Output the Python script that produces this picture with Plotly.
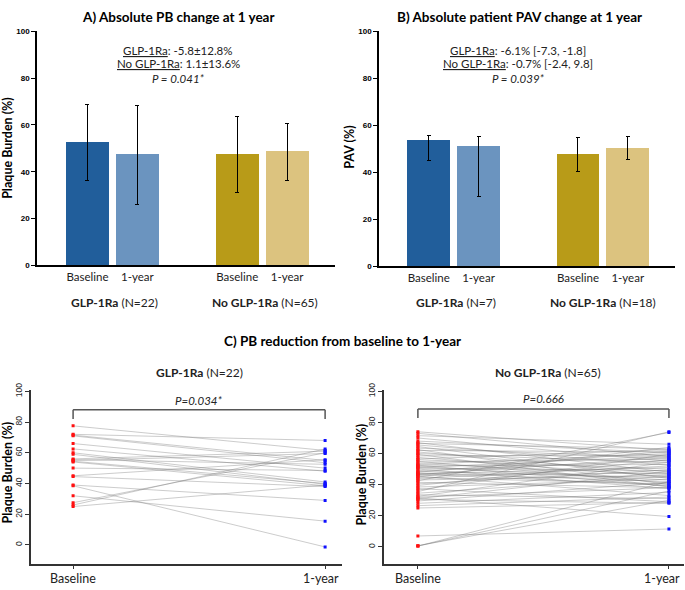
import plotly.graph_objects as go

W, H = 685, 590
FONT = "Lato"

# ---------------- DATA ----------------
bar_labels = ["Baseline", "1-year", "Baseline", "1-year"]
bar_colors = ["#215e9b", "#6b94bf", "#b89b18", "#dcc37f"]

# Panel A: mean +/- SD plaque burden (%)
A_means = [52.5, 47.2, 47.5, 48.5]
A_sd = [16.3, 21.1, 16.3, 12.3]

# Panel B: median [IQR] PAV (%)
B_median = [53.6, 50.8, 47.4, 50.3]
B_upper = [55.8, 55.4, 54.7, 55.1]
B_lower = [45.0, 29.9, 40.4, 45.5]

# Panel C: individual PB at baseline and 1-year
C_glp_base = [77.5, 72.0, 71.5, 71.0, 66.0, 62.5, 60.0, 59.0, 56.0, 55.5, 55.0,
              54.5, 54.0, 50.0, 45.0, 44.5, 39.0, 38.5, 32.0, 27.5, 26.0, 25.0]
C_glp_1yr = [61.5, 68.0, 55.0, 53.5, 50.0, 48.0, 41.0, 39.5, 61.0, 52.5, 59.5,
             40.0, 38.5, 48.5, 55.5, 38.0, 29.0, -1.3, 15.5, 60.0, 62.5, 39.0]

C_no_base = [74.0, 73.0, 71.5, 70.0, 68.0, 67.0, 66.5, 65.5, 64.5, 63.5,
             62.5, 62.0, 61.0, 60.0, 59.5, 58.5, 57.5, 56.5, 56.0, 55.0,
             54.5, 53.5, 53.0, 52.5, 52.0, 51.5, 51.0, 50.5, 50.0, 49.0,
             48.5, 48.0, 47.5, 47.0, 46.8, 46.5, 46.0, 45.5, 45.0, 44.5,
             44.0, 43.0, 42.5, 41.5, 40.5, 39.5, 38.5, 37.5, 36.5, 35.5,
             34.5, 33.5, 32.5, 32.0, 31.5, 31.0, 30.5, 29.5, 28.0, 26.5,
             25.0, 7.0, 0.8, 0.5, 0.5]
C_no_1yr = [62.0, 58.0, 66.0, 55.0, 60.5, 48.0, 63.0, 52.5, 44.0, 57.0,
            40.0, 61.0, 47.0, 54.0, 38.5, 59.0, 45.0, 62.5, 50.0, 41.0,
            56.5, 46.5, 60.0, 39.0, 53.0, 43.0, 58.5, 49.0, 37.5, 55.5,
            44.5, 61.5, 42.0, 51.0, 39.5, 57.5, 47.5, 33.0, 64.0, 40.5,
            52.0, 46.0, 73.5, 38.0, 49.5, 56.0, 43.5, 29.0, 59.5, 74.0,
            45.5, 31.0, 54.5, 38.0, 19.5, 48.5, 28.0, 41.5, 35.0, 32.0,
            28.5, 11.5, 30.0, 42.0, 36.0]

timepoints = ["Baseline", "1-year"]

# ---------------- LAYOUT HELPERS ----------------
def px_x(p):
    return p / W


def px_y(p):
    return 1 - p / H


slots = [0, 1, 3, 4]  # bar slot positions (gap between groups)

fig = go.Figure()

# Panel A bars
fig.add_trace(go.Bar(
    x=slots, y=A_means, marker=dict(color=bar_colors, line=dict(width=0)),
    width=0.86, xaxis="x", yaxis="y", showlegend=False,
    error_y=dict(type="data", array=A_sd, symmetric=True, color="black",
                 thickness=1, width=2)))

# Panel B bars
fig.add_trace(go.Bar(
    x=slots, y=B_median, marker=dict(color=bar_colors, line=dict(width=0)),
    width=0.86, xaxis="x2", yaxis="y2", showlegend=False,
    error_y=dict(type="data", symmetric=False,
                 array=[u - m for u, m in zip(B_upper, B_median)],
                 arrayminus=[m - l for m, l in zip(B_median, B_lower)],
                 color="black", thickness=1, width=2)))


def add_pairs(base, one, xa, ya):
    xs, ys = [], []
    for b, o in zip(base, one):
        xs += [0, 1, None]
        ys += [b, o, None]
    fig.add_trace(go.Scatter(x=xs, y=ys, mode="lines", xaxis=xa, yaxis=ya,
                             line=dict(color="rgba(110,110,110,0.5)", width=0.7),
                             showlegend=False, hoverinfo="skip"))
    fig.add_trace(go.Scatter(x=[0] * len(base), y=base, mode="markers", xaxis=xa, yaxis=ya,
                             marker=dict(color="#ff1010", size=3, symbol="square"),
                             showlegend=False))
    fig.add_trace(go.Scatter(x=[1] * len(one), y=one, mode="markers", xaxis=xa, yaxis=ya,
                             marker=dict(color="#1010ff", size=3, symbol="square"),
                             showlegend=False))


add_pairs(C_glp_base, C_glp_1yr, "x3", "y3")
add_pairs(C_no_base, C_no_1yr, "x4", "y4")

bar_y_common = dict(range=[0, 100], dtick=20, showgrid=False, zeroline=False,
                    showline=True, linecolor="black", linewidth=1.5,
                    ticks="outside", ticklen=4, tickcolor="black", tickwidth=1,
                    tickfont=dict(family="Liberation Sans", size=8, color="black", weight="bold"))
bar_x_common = dict(showgrid=False, zeroline=False, showline=True, linecolor="black",
                    linewidth=1.5, ticks="", tickvals=slots, ticktext=bar_labels,
                    tickfont=dict(family=FONT, size=11.5, color="#222"))

c_y_common = dict(dtick=20, showgrid=False, zeroline=False, showline=True,
                  linecolor="#333", linewidth=1.5, ticks="outside", ticklen=4,
                  tickcolor="#333", tickangle=-90,
                  tickfont=dict(family="Liberation Sans", size=8.5, color="#222"))
c_x_common = dict(showgrid=False, zeroline=False, showline=True, linecolor="#333",
                  linewidth=1.5, ticks="outside", ticklen=3, tickcolor="#333",
                  tickvals=[0, 1], showticklabels=False)

c_ydom = [px_y(569), px_y(391)]

fig.update_layout(
    width=W, height=H, margin=dict(l=0, r=0, t=0, b=0),
    paper_bgcolor="white", plot_bgcolor="white",
    bargap=0,
    xaxis=dict(bar_x_common, domain=[px_x(37), px_x(335)], range=[-1.01, 4.96], anchor="y"),
    yaxis=dict(bar_y_common, domain=[px_y(263), px_y(24)], anchor="x"),
    xaxis2=dict(bar_x_common, domain=[px_x(379), px_x(675)], range=[-1.0, 4.95], anchor="y2"),
    yaxis2=dict(bar_y_common, domain=[px_y(264), px_y(24)], anchor="x2"),
    xaxis3=dict(c_x_common, domain=[px_x(31), px_x(342)], range=[-0.167, 1.067], anchor="y3"),
    yaxis3=dict(c_y_common, domain=c_ydom, range=[-12.7, 100.6], anchor="x3"),
    xaxis4=dict(c_x_common, domain=[px_x(384), px_x(684)], range=[-0.135, 1.06], anchor="y4"),
    yaxis4=dict(c_y_common, domain=c_ydom, range=[-11.3, 100.6], anchor="x4"),
)

ann = []


def text(x, y, s, size=12, angle=0, xanchor="center", color="black"):
    ann.append(dict(x=px_x(x), y=px_y(y), xref="paper", yref="paper", text=s,
                    showarrow=False, xanchor=xanchor, yanchor="middle", textangle=angle,
                    font=dict(family=FONT, size=size, color=color)))


# Titles
text(178, 9, "<b>A) Absolute PB change at 1 year</b>", 13.5)
text(519, 9, "<b>B) Absolute patient PAV change at 1 year</b>", 13.5)
text(342, 340, "<b>C) PB reduction from baseline to 1-year</b>", 13.5)

# Stats texts
text(178, 43, "<u>GLP-1Ra</u>: -5.8±12.8%", 11.5, color="#222")
text(178, 57, "<u>No GLP-1Ra</u>: 1.1±13.6%", 11.5, color="#222")
text(178, 72, "<i>P = 0.041*</i>", 11.5, color="#222")
text(518, 43, "<u>GLP-1Ra</u>: -6.1% [-7.3, -1.8]", 11.5, color="#222")
text(518, 57, "<u>No GLP-1Ra</u>: -0.7% [-2.4, 9.8]", 11.5, color="#222")
text(518, 72, "<i>P = 0.039*</i>", 11.5, color="#222")

# Group labels
text(114, 301, "<b>GLP-1Ra</b> (N=22)", 12, color="#222")
text(265, 301, "<b>No GLP-1Ra</b> (N=65)", 12, color="#222")
text(456, 301, "<b>GLP-1Ra</b> (N=7)", 12, color="#222")
text(603, 301, "<b>No GLP-1Ra</b> (N=18)", 12, color="#222")

# Y titles
text(8, 143, "<b>Plaque Burden (%)</b>", 12.5, angle=-90)
text(350, 143, "<b>PAV (%)</b>", 12.5, angle=-90)
text(8, 475, "<b>Plaque Burden (%)</b>", 12.5, angle=-90)
text(361, 477, "<b>Plaque Burden (%)</b>", 12.5, angle=-90)

# C subtitles
text(200, 373, "<b>GLP-1Ra</b> (N=22)", 12, color="#222")
text(548, 373, "<b>No GLP-1Ra</b> (N=65)", 12, color="#222")

# C x labels
text(73, 583, timepoints[0], 12.5, color="#222")
text(321, 583, timepoints[1], 12.5, color="#222")
text(418, 583, timepoints[0], 12.5, color="#222")
text(682, 583, timepoints[1], 12.5, xanchor="right", color="#222")

# P-values in C
ann.append(dict(x=0.5, y=94, xref="x3", yref="y3", text="<i>P=0.034*</i>", showarrow=False,
                font=dict(family=FONT, size=11.5, color="#222")))
ann.append(dict(x=0.5, y=95.5, xref="x4", yref="y4", text="<i>P=0.666</i>", showarrow=False,
                font=dict(family=FONT, size=11.5, color="#222")))

fig.update_layout(annotations=ann)

shapes = []
for xr, yr, top, end in [("x3", "y3", 88, 82), ("x4", "y4", 88.7, 82.8)]:
    ln = dict(color="#555", width=1.5)
    shapes.append(dict(type="line", xref=xr, yref=yr, x0=0, x1=1, y0=top, y1=top, line=ln))
    shapes.append(dict(type="line", xref=xr, yref=yr, x0=0, x1=0, y0=top, y1=end, line=ln))
    shapes.append(dict(type="line", xref=xr, yref=yr, x0=1, x1=1, y0=top, y1=end, line=ln))
fig.update_layout(shapes=shapes)

fig.write_html("out.html")
